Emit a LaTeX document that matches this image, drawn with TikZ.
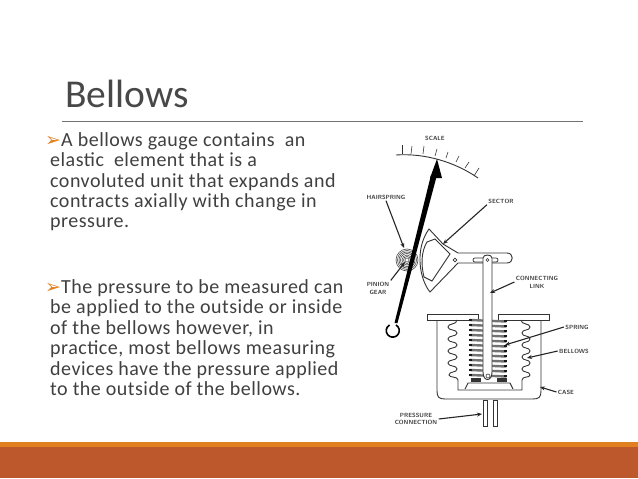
\documentclass[tikz,border=0pt]{standalone}
\usepackage{fontspec}
\setmainfont{Carlito}
\newfontfamily\bodyfont[LetterSpace=2.5]{Carlito}
\newfontfamily\arrowfont{DejaVu Sans}
\usetikzlibrary{arrows.meta}
\definecolor{barorange}{HTML}{E08020}
\definecolor{barrust}{HTML}{BC582B}
\definecolor{titlegray}{HTML}{484848}
\definecolor{bodygray}{HTML}{404040}

\begin{document}
\begin{tikzpicture}[
    x=1pt, y=-1pt,
    linetext/.style={anchor=base west, inner sep=0pt, font=\bodyfont\fontsize{20}{22}\selectfont, text=bodygray},
    bulletmark/.style={anchor=base west, inner sep=0pt, font=\arrowfont\fontsize{19}{20}\selectfont, text=barorange},
    tag/.style={inner sep=0pt, outer sep=1.5pt, font=\sffamily\bfseries\fontsize{6}{7.8}\selectfont, text=black!75, align=center},
    arr/.style={-{Stealth[length=5pt,width=4pt]}, line width=1.1pt, black!85},
    ink/.style={draw=black!80, line width=0.9pt},
]
    \useasboundingbox (0,0) rectangle (638,479);
    \fill[white] (0,0) rectangle (638,479);

    % title and rule
    \node[anchor=base west, inner sep=0pt, font=\fontsize{39.5}{42}\selectfont, text=titlegray] (title) at (65,107) {Bellows};
    \coordinate (ruleL) at (62,121);
    \coordinate (ruleR) at (583,121);
    \draw[black!55, line width=0.7pt] (ruleL) -- (ruleR);

    % bottom bars
    \fill[barorange] (0,442) rectangle (638,447);
    \fill[barrust] (0,447) rectangle (638,478);

    % text
    \node[bulletmark] (m1) at (45,146) {\char"27A2};
    \node[linetext] (b1) at (61,146) {A bellows gauge contains\ \ an};
    \node[linetext] (l2) at (50,166) {elastic\ \ element that is a};
    \node[linetext] (l3) at (50,187) {convoluted unit that expands and};
    \node[linetext] (l4) at (50,207) {contracts axially with change in};
    \node[linetext] (l5) at (50,227) {pressure.};
    \node[bulletmark] (m2) at (45,293) {\char"27A2};
    \node[linetext] (b2) at (61,293) {The pressure to be measured can};
    \node[linetext] (l6) at (50,313) {be applied to the outside or inside};
    \node[linetext] (l7) at (50,334) {of the bellows however, in};
    \node[linetext] (l8) at (50,354) {practice, most bellows measuring};
    \node[linetext] (l9) at (50,375) {devices have the pressure applied};
    \node[linetext] (l10) at (50,395) {to the outside of the bellows.};

    % scale
    \draw[ink] (396,155) .. controls (425,153) and (455,162) .. (478,178);
    \foreach \a/\b/\c/\d in {402/145/402/154, 412/146/411/154, 424/146/423/154, 437/149/435/156, 448/152/446/158, 459/156/456/162, 469/162/465/168, 479/168/474/176}
        \draw[ink, line width=0.6pt] (\a,\b) -- (\c,\d);

    % hairspring
    \foreach \r in {2,3.5,5,6.5,8,9.5,11}
        \draw[black!70, line width=0.6pt] (407,260) circle (\r);

    % sector
    \draw[ink, fill=white] (429,229) -- (443,244) -- (458,253) -- (507,253)
        .. controls (514,253) and (514,263) .. (507,263) -- (458,263) -- (430,292)
        .. controls (420,280) and (414,250) .. (429,229) -- cycle;
    \draw[ink] (427,242) -- (435,239) -- (450,254) -- (432,281) -- (424,277)
        .. controls (421,265) and (421,252) .. (427,242) -- cycle;
    \draw[ink, line width=0.7pt] (455,260) circle (1.8);
    \draw[ink, line width=0.7pt, rounded corners=2pt] (473,258) rectangle (498,262);

    % needle
    \fill[black] (431,175) -- (437,175) -- (397.5,323) -- (394.5,323) -- cycle;
    \fill[black] (437,159) -- (442,178) -- (430,178) -- cycle;
    \draw[black, line width=1.6pt] (396,325) arc (-60:240:6.5);

    % case
    \draw[ink] (437,320) -- (437,391) .. controls (437,397) and (439,399) .. (445,399)
        -- (533,399) .. controls (539,399) and (541,397) .. (541,391) -- (541,320);
    \draw[ink, fill=white] (427,314) rectangle (478,320);
    \draw[ink, fill=white] (498,314) rectangle (549,320);

    % bellows
    \draw[ink] (457,320) .. controls (457,325) and (448,323) .. (448,327)
        .. controls (448,331) and (457,329) .. (457,333)
        .. controls (457,337) and (448,335) .. (448,339)
        .. controls (448,343) and (457,341) .. (457,345)
        .. controls (457,349) and (448,347) .. (448,351)
        .. controls (448,355) and (457,353) .. (457,357)
        .. controls (457,361) and (448,359) .. (448,363)
        .. controls (448,367) and (457,365) .. (457,369)
        .. controls (457,373) and (449,371) .. (449,375)
        .. controls (449,378) and (458,376) .. (458,380)
        -- (458,390) -- (522,390) -- (522,380)
        .. controls (522,376) and (530,378) .. (530,375)
        .. controls (530,371) and (522,373) .. (522,369)
        .. controls (522,365) and (530,367) .. (530,363)
        .. controls (530,359) and (522,361) .. (522,357)
        .. controls (522,353) and (530,355) .. (530,351)
        .. controls (530,347) and (522,349) .. (522,345)
        .. controls (522,341) and (530,343) .. (530,339)
        .. controls (530,335) and (522,337) .. (522,333)
        .. controls (522,329) and (530,331) .. (530,327)
        .. controls (530,323) and (521,325) .. (521,320);

    % spring
    \foreach \y in {320,325,...,375}
        \draw[black!55, line width=2.4pt, line cap=round] (470,\y) -- (506,\y+1.5);
    \foreach \y in {320,325,...,375} {
        \fill[black!90] (469,\y-1) rectangle (472,\y+1);
        \fill[black!90] (504,\y) rectangle (507,\y+2);
    }

    % plate
    \draw[ink, fill=white] (465,389) -- (468,383) -- (510,383) -- (513,389);
    \fill[black!80] (471,378) rectangle (481,382);
    \fill[black!80] (497,378) rectangle (507,382);

    % link
    \draw[ink, fill=white] (483,258) -- (483,372)
        .. controls (483,382) and (492,382) .. (492,372) -- (492,258)
        .. controls (492,254) and (483,254) .. (483,258) -- cycle;
    \draw[ink, line width=0.6pt] (487.5,260) circle (1.5);
    \draw[ink, line width=0.6pt] (488,376) circle (2);

    % pressure tube
    \draw[ink] (483,400) rectangle (487,426);
    \draw[ink] (493,400) rectangle (497,426);

    % labels
    \node[tag] (scale) at (435,138) {SCALE};
    \node[tag] (hairspring) at (386,197) {HAIRSPRING};
    \node[tag] (sector) at (501,201) {SECTOR};
    \node[tag] (pinion) at (378,288) {PINION\\GEAR};
    \node[tag] (link) at (537,282) {CONNECTING\\LINK};
    \node[tag] (spring) at (577,327) {SPRING};
    \node[tag] (bellows) at (574,351) {BELLOWS};
    \node[tag] (case) at (566,392) {CASE};
    \node[tag] (connection) at (416,419) {PRESSURE\\CONNECTION};

    \coordinate (hairend) at (404,248);
    \coordinate (sectorend) at (443,244);
    \coordinate (pinionend) at (405,262);
    \coordinate (linkend) at (490,293);
    \coordinate (springend) at (505,345);
    \coordinate (bellowsend) at (527,358);
    \coordinate (caseend) at (540,387);
    \coordinate (tubeend) at (482,414);

    \draw[arr] (hairspring.south) -- (hairend);
    \draw[arr] (sector.south west) -- (sectorend);
    \draw[arr] (pinion.north east) -- (pinionend);
    \draw[arr] (link.west) -- (linkend);
    \draw[arr] (spring.west) -- (springend);
    \draw[arr] (bellows.west) -- (bellowsend);
    \draw[arr] (case.west) -- (caseend);
    \draw[arr] (connection.east) -- (tubeend);
\end{tikzpicture}
\end{document}
